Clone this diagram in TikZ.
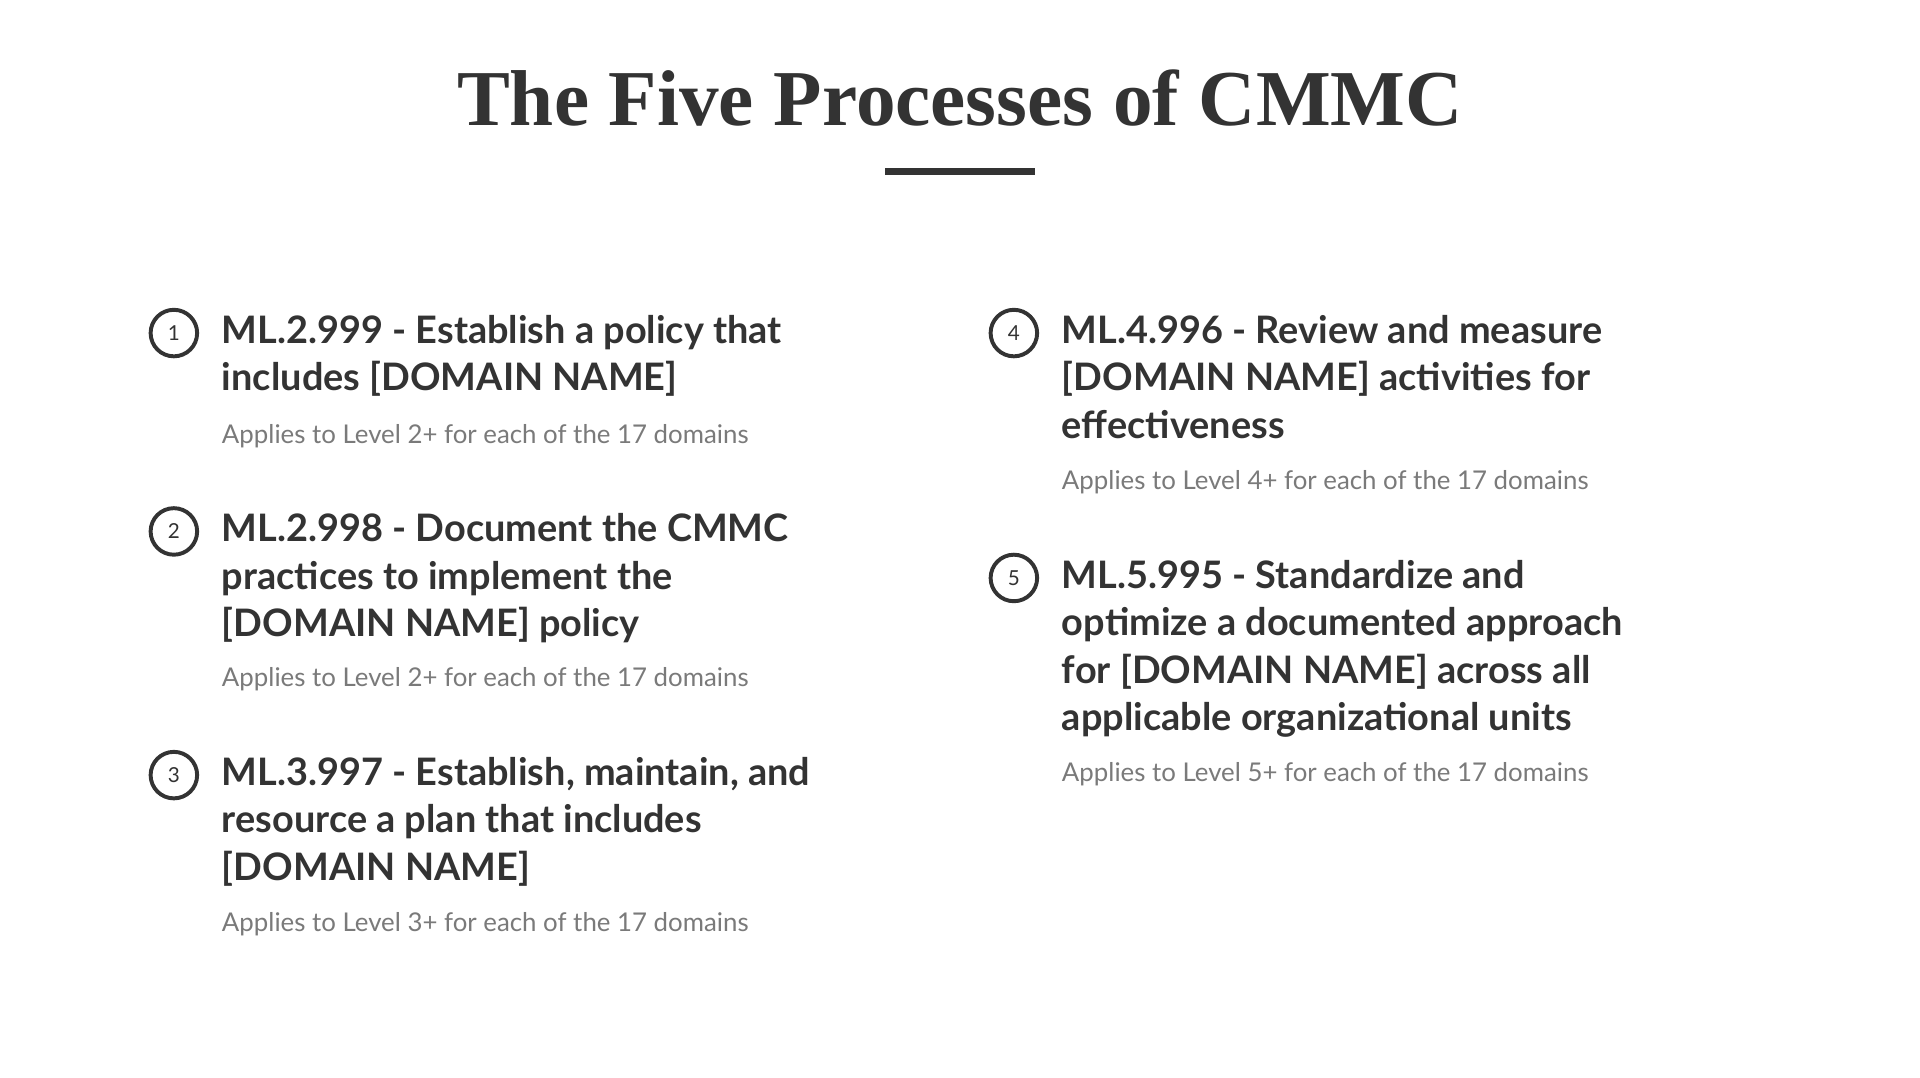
\documentclass[tikz,border=0pt]{standalone}
\usepackage{fontspec}
\setmainfont{Lato}
\newfontfamily\titlefont{Liberation Serif}
\usepackage{tikz}
\definecolor{ink}{HTML}{333333}
\definecolor{note}{HTML}{7A7A7A}
\tikzset{
  num/.style={circle,draw=ink,line width=0.8mm,minimum size=9.5mm,inner sep=0pt,
    text=ink,font=\fontsize{12}{12}\selectfont},
  head/.style={anchor=north west,align=left,inner sep=0pt,text=ink,
    font=\fontsize{22}{27.6}\selectfont\bfseries},
  sub/.style={anchor=north west,inner sep=0pt,text=note,font=\fontsize{15}{18}\selectfont}
}
\begin{document}
\begin{tikzpicture}[x=0.25mm,y=-0.25mm]
		\useasboundingbox[fill=white] (0,0) rectangle (1568,880);
		\node[text=ink,font=\fontsize{46}{46}\selectfont\titlefont\bfseries] (title) at (784,80) {The Five Processes of CMMC};
		\coordinate (ruleL) at (723,140);
		\coordinate (ruleR) at (845,140);
		\draw[ink,line width=1.3mm] (ruleL) -- (ruleR);
		% left column
		\node[num] (n1) at (142,272) {1};
		\node[head] (h1) at (181,257) {ML.2.999 - Establish a policy that\\includes [DOMAIN NAME]};
		\node[sub] (s1) at (181,346) {Applies to Level 2+ for each of the 17 domains};
		\node[num] (n2) at (142,434) {2};
		\node[head] (h2) at (181,419) {ML.2.998 - Document the CMMC\\practices to implement the\\{}[DOMAIN NAME] policy};
		\node[sub] (s2) at (181,545) {Applies to Level 2+ for each of the 17 domains};
		\node[num] (n3) at (142,633) {3};
		\node[head] (h3) at (181,618) {ML.3.997 - Establish, maintain, and\\resource a plan that includes\\{}[DOMAIN NAME]};
		\node[sub] (s3) at (181,745) {Applies to Level 3+ for each of the 17 domains};
		% right column
		\node[num] (n4) at (828,272) {4};
		\node[head] (h4) at (867,257) {ML.4.996 - Review and measure\\{}[DOMAIN NAME] activities for\\effectiveness};
		\node[sub] (s4) at (867,384) {Applies to Level 4+ for each of the 17 domains};
		\node[num] (n5) at (828,472) {5};
		\node[head] (h5) at (867,457) {ML.5.995 - Standardize and\\optimize a documented approach\\for [DOMAIN NAME] across all\\applicable organizational units};
		\node[sub] (s5) at (867,622) {Applies to Level 5+ for each of the 17 domains};
\end{tikzpicture}
\end{document}
